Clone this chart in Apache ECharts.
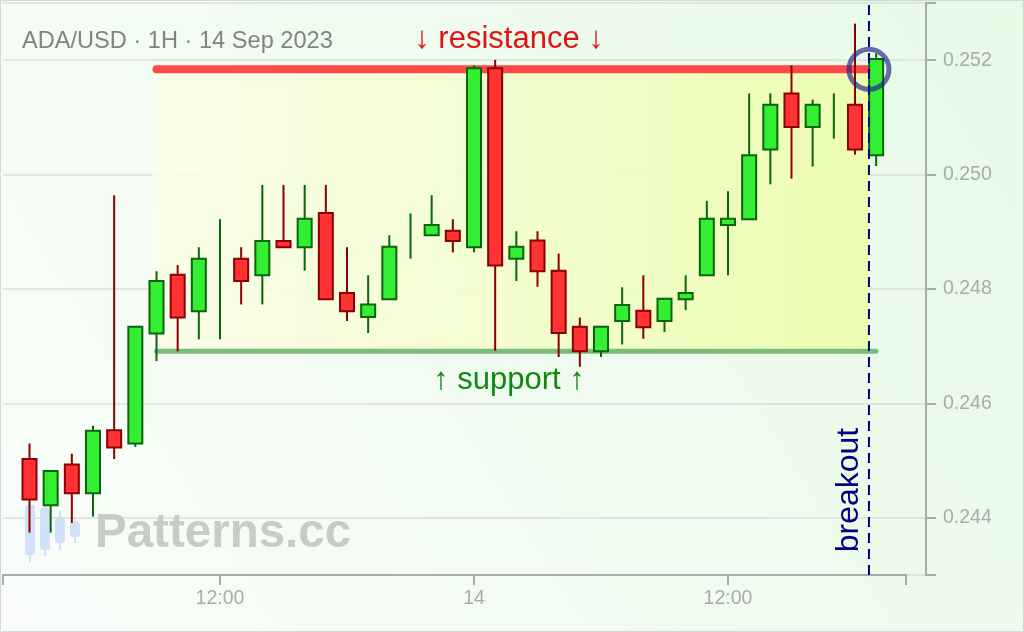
<!DOCTYPE html>
<html>
<head>
<meta charset="utf-8">
<script src="https://cdn.jsdelivr.net/npm/echarts@6/dist/echarts.min.js"></script>
<style>
html,body{margin:0;padding:0;background:#fff;}
#chart{width:1024px;height:632px;}
</style>
</head>
<body>
<div id="chart"></div>
<script>
// ---- data (hourly candles, index 0 = 03:00 on 13 Sep) ----
const opens  = [0.24503,0.24422,0.24493,0.24443,0.24553,0.24530,0.24722,0.24825,0.24761,0.24800,
                0.24853,0.24824,0.24884,0.24873,0.24933,0.24793,0.24751,0.24782,0.24890,0.24894,
                0.24902,0.24873,0.25186,0.24853,0.24885,0.24832,0.24734,0.24691,0.24744,0.24762,
                0.24744,0.24782,0.24824,0.24912,0.24922,0.25044,0.25142,0.25083,0.25100,0.25122,
                0.25034];
const closes = [0.24432,0.24482,0.24443,0.24552,0.24523,0.24734,0.24814,0.24750,0.24853,0.24800,
                0.24814,0.24884,0.24873,0.24923,0.24782,0.24761,0.24773,0.24874,0.24890,0.24912,
                0.24884,0.25186,0.24841,0.24874,0.24831,0.24723,0.24691,0.24734,0.24772,0.24733,
                0.24783,0.24793,0.24923,0.24923,0.25034,0.25122,0.25083,0.25122,0.25100,0.25044,
                0.25202];
const lows   = [0.24374,0.24374,0.24391,0.24402,0.24503,0.24524,0.24674,0.24691,0.24712,0.24712,
                0.24773,0.24773,0.24873,0.24832,0.24782,0.24744,0.24723,0.24782,0.24853,0.24894,
                0.24864,0.24864,0.24692,0.24814,0.24804,0.24681,0.24664,0.24681,0.24703,0.24713,
                0.24725,0.24763,0.24824,0.24824,0.24922,0.24983,0.24993,0.25014,0.25063,0.25035,
                0.25015];
const highs  = [0.24530,0.24482,0.24512,0.24561,0.24964,0.24734,0.24831,0.24842,0.24873,0.24922,
                0.24873,0.24982,0.24982,0.24982,0.24982,0.24873,0.24824,0.24894,0.24932,0.24964,
                0.24922,0.25191,0.25201,0.24901,0.24901,0.24862,0.24750,0.24734,0.24803,0.24824,
                0.24783,0.24824,0.24954,0.24971,0.25142,0.25142,0.25191,0.25131,0.25142,0.25264,
                0.25212];

const xTickIndex  = [9, 21, 33];
const xTickLabels = ['12:00', '14', '12:00'];
const xMin = -1.252, xMax = 41.41;

const yMin = 0.243, yMax = 0.253;
const yTickValues  = [0.243, 0.244, 0.246, 0.248, 0.250, 0.252, 0.253];
const yLabelValues = [0.244, 0.246, 0.248, 0.250, 0.252];

const resistanceLevel = 0.25184;
const supportLevel    = 0.24691;
const patternStart = 6, patternEnd = 40;
const zoneStart = 5.8;
const breakoutIndex = 39.66;

const candleData = opens.map((o, i) => [i, o, closes[i], lows[i], highs[i]]);

const FONT = '"Liberation Sans", Arial, sans-serif';
const chart = echarts.init(document.getElementById('chart'), null, {renderer: 'canvas'});

const axisGray = '#aaaaaa';

const option = {
  animation: false,
  backgroundColor: {
    type: 'linear', x: 0, y: 1, x2: 1, y2: 0,
    colorStops: [{offset: 0, color: '#fafdfa'}, {offset: 1, color: '#e6fae6'}]
  },
  grid: [
    {left: 3, right: 98, top: 3, bottom: 57},
    {left: 3, right: 118, top: 3, bottom: 57}
  ],
  xAxis: [
    {gridIndex: 0, type: 'value', min: xMin, max: xMax, show: false},
    {
      gridIndex: 1, type: 'value', min: xMin, max: xMax,
      axisLine: {show: true, onZero: false, lineStyle: {color: axisGray, width: 2}},
      axisTick: {show: true, customValues: [xMin].concat(xTickIndex, [xMax]), length: 10,
                 lineStyle: {color: axisGray, width: 2}},
      axisLabel: {
        customValues: xTickIndex,
        formatter: v => { const k = xTickIndex.indexOf(Math.round(v)); return k >= 0 ? xTickLabels[k] : ''; },
        color: axisGray, fontSize: 19.5, fontFamily: FONT, margin: 14
      },
      splitLine: {show: false}
    }
  ],
  yAxis: [
    {
      gridIndex: 0, type: 'value', position: 'right', min: yMin, max: yMax,
      axisLine: {show: true, onZero: false, lineStyle: {color: axisGray, width: 2}},
      axisTick: {show: true, customValues: yTickValues, length: 10, lineStyle: {color: axisGray, width: 2}},
      axisLabel: {
        customValues: yLabelValues,
        formatter: v => v.toFixed(3),
        color: axisGray, fontSize: 19.5, fontFamily: FONT, margin: 17
      },
      splitLine: {show: true, lineStyle: {color: '#dcdedc', width: 1.5}}
    },
    {gridIndex: 1, type: 'value', min: yMin, max: yMax, show: false,
     axisLine: {show: false, onZero: false}, splitLine: {show: false}}
  ],
  series: [
    {
      name: 'resistance', type: 'line', xAxisIndex: 1, yAxisIndex: 1, z: 3,
      data: [[patternStart, resistanceLevel], [patternEnd, resistanceLevel]],
      symbol: 'none', silent: true,
      lineStyle: {color: '#ff4848', width: 8, cap: 'round'},
      markArea: {
        silent: true,
        itemStyle: {
          color: {type: 'linear', x: 0, y: 0, x2: 1, y2: 0,
                  colorStops: [{offset: 0, color: 'rgba(250,254,232,0.85)'}, {offset: 1, color: 'rgba(236,253,176,1)'}]}
        },
        data: [[{coord: [zoneStart, supportLevel]}, {coord: [breakoutIndex, resistanceLevel]}]]
      }
    },
    {
      name: 'support', type: 'line', xAxisIndex: 1, yAxisIndex: 1, z: 3,
      data: [[patternStart, supportLevel], [patternEnd, supportLevel]],
      symbol: 'none', silent: true,
      lineStyle: {color: '#79bd79', width: 5, cap: 'round'}
    },
    {
      name: 'ADA/USD', type: 'custom', xAxisIndex: 1, yAxisIndex: 1, z: 5,
      data: candleData,
      encode: {x: 0, y: [1, 2, 3, 4]},
      renderItem: function (params, api) {
        const x = api.value(0), o = api.value(1), c = api.value(2), l = api.value(3), h = api.value(4);
        const pO = api.coord([x, o]), pC = api.coord([x, c]);
        const pL = api.coord([x, l]), pH = api.coord([x, h]);
        const up = c >= o;
        const stroke = up ? '#0b650b' : '#8b0000';
        const fill = up ? '#33ee33' : '#ff3333';
        const children = [{
          type: 'line',
          shape: {x1: pH[0], y1: pH[1], x2: pL[0], y2: pL[1]},
          style: {stroke: stroke, lineWidth: 2}
        }];
        if (Math.abs(o - c) > 1e-7) {
          const top = Math.min(pO[1], pC[1]);
          children.push({
            type: 'rect',
            shape: {x: pO[0] - 7, y: top, width: 14, height: Math.abs(pO[1] - pC[1])},
            style: {fill: fill, stroke: stroke, lineWidth: 2}
          });
        }
        return {type: 'group', children: children};
      }
    },
    {
      name: 'breakout', type: 'line', xAxisIndex: 1, yAxisIndex: 1, z: 6,
      data: [[breakoutIndex, yMin], [breakoutIndex, yMax]],
      symbol: 'none', silent: true,
      lineStyle: {color: '#000080', width: 2, type: [10, 6]}
    },
    {
      name: 'breakpoint', type: 'scatter', xAxisIndex: 1, yAxisIndex: 1, z: 7,
      data: [[breakoutIndex, resistanceLevel]],
      symbol: 'circle', symbolSize: 40, silent: true,
      itemStyle: {color: 'rgba(0,0,0,0)', borderColor: 'rgba(30,30,135,0.82)', borderWidth: 5}
    }
  ],
  graphic: [
    {type: 'rect', z: 100, silent: true, shape: {x: 0.5, y: 0.5, width: 1023, height: 631},
     style: {fill: 'none', stroke: '#d4d8d4', lineWidth: 1}},
    {type: 'text', x: 22, y: 41, z: 50, silent: true,
     style: {text: 'ADA/USD · 1H · 14 Sep 2023', font: '23.6px ' + FONT, fill: '#808480',
             align: 'left', verticalAlign: 'middle', textAlign: 'left', textVerticalAlign: 'middle'}},
    {type: 'text', x: 509, y: 39, z: 50, silent: true,
     style: {text: '↓ resistance ↓', font: '31px ' + FONT, fill: '#e01414',
             align: 'center', verticalAlign: 'middle', textAlign: 'center', textVerticalAlign: 'middle'}},
    {type: 'text', x: 509, y: 380, z: 50, silent: true,
     style: {text: '↑ support ↑', font: '31px ' + FONT, fill: '#118811',
             align: 'center', verticalAlign: 'middle', textAlign: 'center', textVerticalAlign: 'middle'}},
    {type: 'text', x: 849, y: 490, rotation: Math.PI / 2, z: 50, silent: true,
     style: {text: 'breakout', font: '32px ' + FONT, fill: '#000080',
             align: 'center', verticalAlign: 'middle', textAlign: 'center', textVerticalAlign: 'middle'}},
    {type: 'text', x: 95, y: 534, z: 1, silent: true,
     style: {text: 'Patterns.cc', font: 'bold 47.5px ' + FONT, fill: '#c9cbc9',
             align: 'left', verticalAlign: 'middle', textAlign: 'left', textVerticalAlign: 'middle'}},
    {type: 'group', z: 1, silent: true, children: [
      {type: 'line', shape: {x1: 30, y1: 503, x2: 30, y2: 562}, style: {stroke: '#cfe2f8', lineWidth: 2}},
      {type: 'rect', shape: {x: 25, y: 505, width: 10, height: 50, r: 3}, style: {fill: '#cfe2f8'}},
      {type: 'line', shape: {x1: 45, y1: 505, x2: 45, y2: 556}, style: {stroke: '#cfe2f8', lineWidth: 2}},
      {type: 'rect', shape: {x: 40, y: 508, width: 10, height: 42, r: 3}, style: {fill: '#cfe2f8'}},
      {type: 'line', shape: {x1: 60, y1: 511, x2: 60, y2: 550}, style: {stroke: '#cfe2f8', lineWidth: 2}},
      {type: 'rect', shape: {x: 55, y: 517, width: 10, height: 26, r: 3}, style: {fill: '#cfe2f8'}},
      {type: 'line', shape: {x1: 75, y1: 518, x2: 75, y2: 543}, style: {stroke: '#cfe2f8', lineWidth: 2}},
      {type: 'rect', shape: {x: 70, y: 522, width: 10, height: 15, r: 3}, style: {fill: '#cfe2f8'}}
    ]}
  ]
};
chart.setOption(option);
</script>
</body>
</html>
